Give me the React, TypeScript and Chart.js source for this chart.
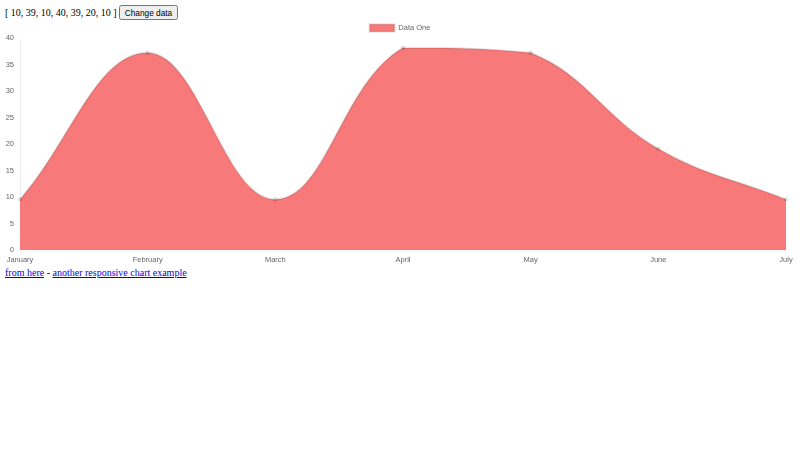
import { useEffect, useRef } from 'react'
import { Chart, registerables } from 'chart.js'

Chart.register(...registerables)

const months = ['January', 'February', 'March', 'April', 'May', 'June', 'July']
const dataOne = [10, 39, 10, 40, 39, 20, 10]
const yTickStep = 5
const yMax = 40

const FONT = "'Liberation Sans', Arial, Helvetica, sans-serif"

// in the original the tick labels start a bit above the legend's bottom and
// the plotted data sits lower than the tick labels, so both are nudged here
const LABEL_TOP_SHIFT = 3.75
const DATA_TOP_SHIFT = 9.7

const areaShift = {
  id: 'areaShift',
  afterLayout(chart: any) {
    const area = chart.chartArea
    const y = chart.scales.y
    const yd = chart.scales.yData
    if (!area || !y || !yd) return
    y.top = area.top - LABEL_TOP_SHIFT
    y.height = y.bottom - y.top
    y.configure()
    area.top = y.top + DATA_TOP_SHIFT
    area.height = area.bottom - area.top
    yd.top = area.top
    yd.height = yd.bottom - yd.top
    yd.configure()
  }
}

export default function App() {
  const chartRef = useRef<HTMLCanvasElement>(null)
  const chartInstance = useRef<Chart | null>(null)

  useEffect(() => {
    document.body.style.margin = '5px'
    if (!chartRef.current) return
    const ctx = chartRef.current.getContext('2d')
    if (!ctx) return

    if (chartInstance.current) {
      chartInstance.current.destroy()
    }

    chartInstance.current = new Chart(ctx, {
      type: 'line',
      data: {
        labels: months,
        datasets: [
          {
            label: 'Data One',
            data: dataOne,
            yAxisID: 'yData',
            backgroundColor: '#f87979',
            borderColor: 'rgba(0, 0, 0, 0.1)',
            borderWidth: 1.9,
            tension: 0.4,
            fill: 'origin',
            clip: false,
            pointRadius: 1.9,
            pointBorderWidth: 0.7,
            pointBackgroundColor: 'rgba(0, 0, 0, 0.1)',
            pointBorderColor: 'rgba(0, 0, 0, 0.1)'
          }
        ]
      },
      plugins: [areaShift],
      options: {
        animation: false,
        responsive: true,
        maintainAspectRatio: false,
        layout: {
          padding: 0
        },
        plugins: {
          legend: {
            display: true,
            position: 'top',
            labels: {
              boxWidth: 25,
              boxHeight: 7.5,
              padding: 6.25,
              color: '#666',
              font: { family: FONT, size: 7.5, lineHeight: 1 }
            }
          },
          tooltip: { enabled: false }
        },
        scales: {
          x: {
            grid: { display: false, drawTicks: false },
            border: { display: false },
            afterFit: (scale: any) => {
              scale.height = 17
              scale.paddingLeft = 12
              scale.paddingRight = 9
            },
            ticks: {
              color: '#666',
              padding: 5.5,
              maxRotation: 0,
              font: { family: FONT, size: 7.5 }
            }
          },
          y: {
            position: 'left',
            min: 0,
            max: yMax,
            grid: { display: false, drawTicks: false },
            border: { display: true, color: 'rgba(0, 0, 0, 0.1)', width: 0.7 },
            afterFit: (scale: any) => {
              scale.width = 15
            },
            ticks: {
              stepSize: yTickStep,
              color: '#666',
              padding: 6,
              font: { family: FONT, size: 7.5 }
            }
          },
          yData: {
            position: 'left',
            display: false,
            min: 0,
            max: yMax
          }
        }
      }
    })

    return () => {
      if (chartInstance.current) {
        chartInstance.current.destroy()
        chartInstance.current = null
      }
    }
  }, [])

  return (
    <div style={{ fontFamily: "'Liberation Serif', 'Times New Roman', serif", fontSize: '10px' }}>
      <div style={{ height: '13px', lineHeight: '13px' }}>
        [ {dataOne.join(', ')} ]{' '}
        <button
          style={{
            fontFamily: FONT,
            fontSize: '8.3px',
            padding: '0.5px 3.5px',
            lineHeight: '10px',
            verticalAlign: 'baseline'
          }}
        >
          Change data
        </button>
      </div>
      <div style={{ position: 'relative', width: '790px', height: '249px' }}>
        <canvas ref={chartRef}></canvas>
      </div>
      <div style={{ lineHeight: '11.5px' }}>
        <a href="#">from here</a> - <a href="#">another responsive chart example</a>
      </div>
    </div>
  )
}
